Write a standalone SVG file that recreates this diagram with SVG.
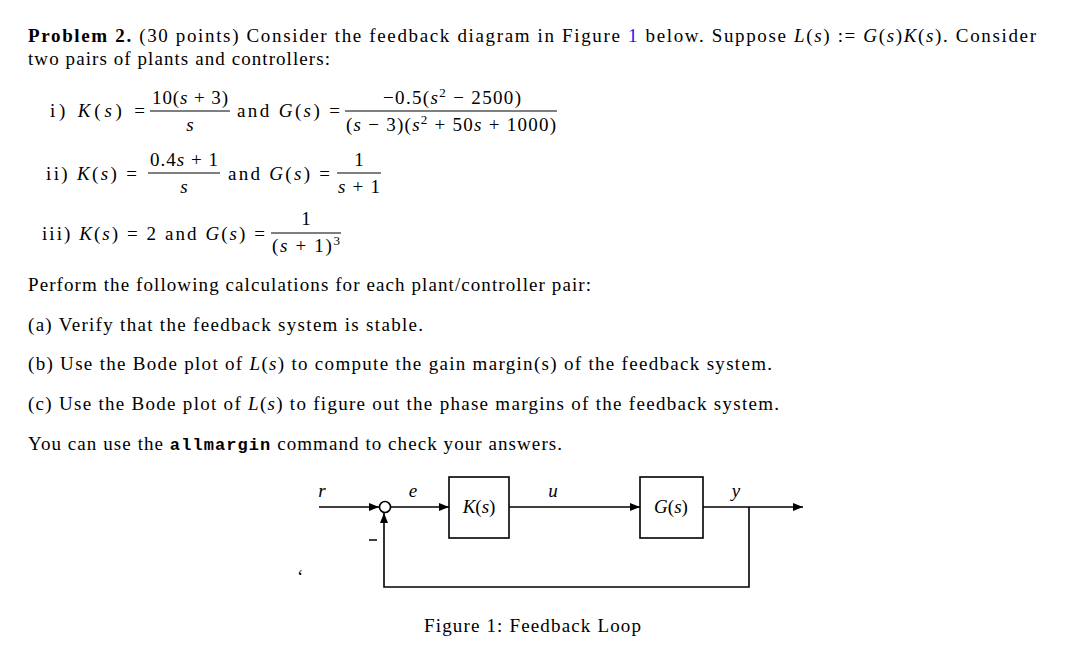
<svg xmlns="http://www.w3.org/2000/svg" width="1075" height="667" viewBox="0 0 1075 667">
<style>
text{font-family:"Liberation Serif","Times New Roman",serif;font-size:19px;fill:#000}
.i{font-style:italic}
.b{font-weight:bold}
.m{font-family:"Liberation Mono",monospace;font-weight:bold;font-size:17px}
.c{text-anchor:middle}
.ln{stroke:#000;stroke-width:1.2;fill:none}
.w{stroke:#000;stroke-width:1.6;fill:none}
.blue{fill:#1a1aee}
</style>
<defs><marker id="a" viewBox="0 0 10 10" refX="10" refY="5" markerWidth="10" markerHeight="10" markerUnits="userSpaceOnUse" orient="auto"><path d="M0,1 L10,5 L0,9 z" fill="#000"/></marker></defs>
<rect width="1075" height="667" fill="#fff"/>
<text x="28" y="42" textLength="1008" lengthAdjust="spacing"><tspan class="b">Problem 2.</tspan> (30 points) Consider the feedback diagram in Figure <tspan class="blue">1</tspan> below. Suppose <tspan class="i">L</tspan>(<tspan class="i">s</tspan>) := <tspan class="i">G</tspan>(<tspan class="i">s</tspan>)<tspan class="i">K</tspan>(<tspan class="i">s</tspan>). Consider</text>
<text x="28" y="65" textLength="302" lengthAdjust="spacing">two pairs of plants and controllers:</text>
<text x="50" y="117" textLength="95" lengthAdjust="spacing">i) <tspan class="i">K</tspan>(<tspan class="i">s</tspan>) =</text>
<text x="152" y="104" textLength="76" lengthAdjust="spacing">10(<tspan class="i">s</tspan> + 3)</text>
<text x="190" y="131" class="c i">s</text>
<line class="ln" x1="150" y1="111" x2="230" y2="111"/>
<text x="237" y="117" textLength="103" lengthAdjust="spacing">and <tspan class="i">G</tspan>(<tspan class="i">s</tspan>) =</text>
<text x="383" y="104" textLength="138" lengthAdjust="spacing">−0.5(<tspan class="i">s</tspan><tspan font-size="13" dy="-7">2</tspan><tspan dy="7"> − 2500)</tspan></text>
<text x="346" y="131" textLength="210" lengthAdjust="spacing">(<tspan class="i">s</tspan> − 3)(<tspan class="i">s</tspan><tspan font-size="13" dy="-7">2</tspan><tspan dy="7"> + 50</tspan><tspan class="i">s</tspan> + 1000)</text>
<line class="ln" x1="345" y1="111" x2="557" y2="111"/>
<text x="46" y="180" textLength="91" lengthAdjust="spacing">ii) <tspan class="i">K</tspan>(<tspan class="i">s</tspan>) =</text>
<text x="150" y="166" textLength="68" lengthAdjust="spacing">0.4<tspan class="i">s</tspan> + 1</text>
<text x="184" y="193" class="c i">s</text>
<line class="ln" x1="148" y1="173" x2="220" y2="173"/>
<text x="228" y="180" textLength="102" lengthAdjust="spacing">and <tspan class="i">G</tspan>(<tspan class="i">s</tspan>) =</text>
<text x="359" y="166" class="c">1</text>
<text x="338" y="193" textLength="42" lengthAdjust="spacing"><tspan class="i">s</tspan> + 1</text>
<line class="ln" x1="337" y1="173" x2="381" y2="173"/>
<text x="42" y="240" textLength="223" lengthAdjust="spacing">iii) <tspan class="i">K</tspan>(<tspan class="i">s</tspan>) = 2 and <tspan class="i">G</tspan>(<tspan class="i">s</tspan>) =</text>
<text x="306" y="225" class="c">1</text>
<text x="272" y="252" textLength="68" lengthAdjust="spacing">(<tspan class="i">s</tspan> + 1)<tspan font-size="13" dy="-7">3</tspan></text>
<line class="ln" x1="271" y1="233" x2="341" y2="233"/>
<text x="28" y="291" textLength="563" lengthAdjust="spacing">Perform the following calculations for each plant/controller pair:</text>
<text x="28" y="331" textLength="395" lengthAdjust="spacing">(a) Verify that the feedback system is stable.</text>
<text x="28" y="370" textLength="744" lengthAdjust="spacing">(b) Use the Bode plot of <tspan class="i">L</tspan>(<tspan class="i">s</tspan>) to compute the gain margin(s) of the feedback system.</text>
<text x="28" y="410" textLength="751" lengthAdjust="spacing">(c) Use the Bode plot of <tspan class="i">L</tspan>(<tspan class="i">s</tspan>) to figure out the phase margins of the feedback system.</text>
<text x="28" y="450" textLength="534" lengthAdjust="spacing">You can use the <tspan class="m">allmargin</tspan> command to check your answers.</text>
<g id="sum"><circle cx="385" cy="507" r="5.5" class="w" fill="#fff"/></g>
<g id="K"><rect x="449" y="477" width="60" height="61" class="w"/><text x="479" y="513" class="c"><tspan class="i">K</tspan>(<tspan class="i">s</tspan>)</text></g>
<g id="G"><rect x="640" y="477" width="63" height="61" class="w"/><text x="671" y="513" class="c"><tspan class="i">G</tspan>(<tspan class="i">s</tspan>)</text></g>
<g id="connectors">
<line class="w" x1="319" y1="507" x2="379" y2="507" marker-end="url(#a)"/>
<line class="w" x1="391" y1="507" x2="449" y2="507" marker-end="url(#a)"/>
<line class="w" x1="509" y1="507" x2="640" y2="507" marker-end="url(#a)"/>
<line class="w" x1="703" y1="507" x2="803" y2="507" marker-end="url(#a)"/>
<polyline class="w" points="749,507 749,587 384,587 384,513" marker-end="url(#a)"/>
</g>
<text x="322" y="497" class="i c" font-size="16">r</text>
<text x="413" y="497" class="i c" font-size="16">e</text>
<text x="553" y="497" class="i c" font-size="16">u</text>
<text x="736" y="497" class="i c" font-size="16">y</text>
<line x1="369" y1="540" x2="377" y2="540" stroke="#000" stroke-width="1.5"/>
<text x="297" y="583" font-size="12">‘</text>
<text x="424" y="632" textLength="217" lengthAdjust="spacing">Figure 1: Feedback Loop</text>
</svg>
